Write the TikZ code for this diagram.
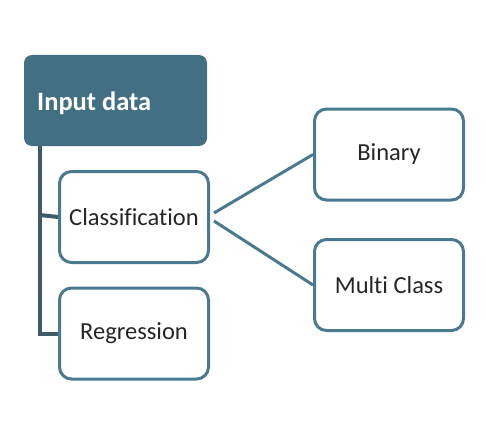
\documentclass[tikz,border=0pt]{standalone}
\usepackage{fontspec}
\setmainfont[Ligatures=NoCommon]{Carlito}
\definecolor{headfill}{HTML}{436F84}
\definecolor{boxline}{HTML}{4A7A90}
\definecolor{treeline}{HTML}{3E5969}
\definecolor{txt}{HTML}{262626}
\begin{document}
\begin{tikzpicture}[x=1pt,y=-1pt,
  leaf/.style={draw=boxline,line width=3pt,rounded corners=12pt,fill=white,
    minimum width=149pt,minimum height=91pt,inner sep=0pt,text=txt,
    font=\fontsize{24.5}{29}\selectfont},
  head/.style={fill=headfill,rounded corners=8pt,minimum width=183pt,
    minimum height=91pt,inner sep=0pt},
  tree/.style={draw=treeline,line width=4pt},
  link/.style={draw=boxline,line width=3pt}]
\useasboundingbox (0,0) rectangle (486,425);
\node[head] (in) at (115.5,100.5) {};
\node[anchor=west,text=white,inner sep=0pt,font=\bfseries\fontsize{26.5}{31}\selectfont] (inlbl) at (37,103) {Input data};
\node[leaf] (cls) at (134,217) {Classification};
\node[leaf] (reg) at (134,333.5) {Regression};
\node[leaf] (bin) at (389,154.5) {Binary};
\node[leaf] (mul) at (389,285) {Multi Class};
\coordinate (t0) at (40,146);
\coordinate (t1) at (40,215);
\coordinate (t2) at (40,333);
\draw[tree] (t0) -- (t2 |- reg.west) -- (reg.west);
\draw[tree] (t1) -- (cls.west);
\coordinate (c1) at (214,213);
\coordinate (c2) at (214,221);
\draw[link] (c1) -- (bin.west);
\draw[link] (c2) -- (mul.west);
\end{tikzpicture}
\end{document}
